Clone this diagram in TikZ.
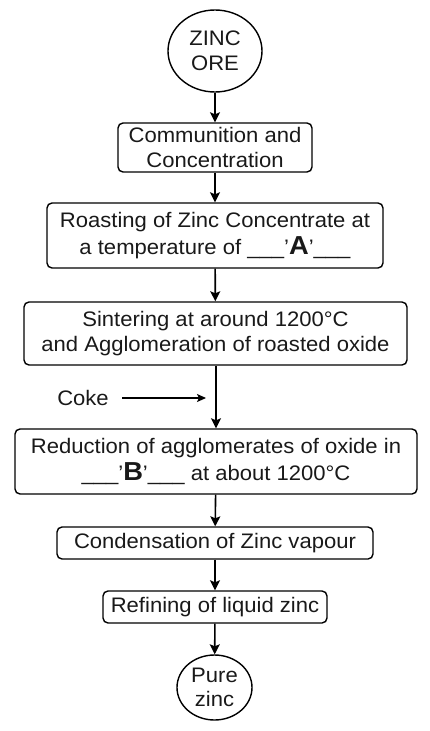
\documentclass[tikz,border=0pt]{standalone}
\usepackage{fontspec}
\setmainfont[FakeStretch=1.05]{Liberation Sans}
\usetikzlibrary{arrows.meta,shapes.geometric}
\begin{document}
\begin{tikzpicture}[x=1pt,y=-1pt,
  every node/.style={font=\fontsize{21}{24.5}\selectfont, text=black!90},
  stepbox/.style={draw, line width=1.4pt, rounded corners=5pt, inner sep=0pt, align=center},
  endpt/.style={draw, ellipse, line width=1.4pt, inner sep=0pt, align=center},
  flow/.style={line width=1.6pt, -{Stealth[length=10pt,width=10pt,inset=2pt]}}]
\newcommand{\bigletter}[1]{{\fontsize{26}{24.5}\selectfont\bfseries #1}}
\useasboundingbox (0,0) rectangle (430,731);
\node[endpt, minimum width=94pt, minimum height=82pt] (ore) at (215,51) {ZINC\\ORE};
\node[stepbox, minimum width=194pt, minimum height=49pt] (comm) at (215,147.5) {Communition and\\Concentration};
\node[stepbox, minimum width=336pt, minimum height=65pt] (roast) at (215,235.5) {Roasting of Zinc Concentrate at\\[2pt]a temperature of \_\_\_'\bigletter{A}'\_\_\_};
\node[stepbox, minimum width=383pt, minimum height=63pt] (sint) at (215.5,333.5) {Sintering at around 1200°C\\and Agglomeration of roasted oxide};
\node[stepbox, minimum width=402pt, minimum height=65pt] (red) at (216,461.5) {Reduction of agglomerates of oxide in\\[3pt]\_\_\_'\bigletter{B}'\_\_\_ at about 1200°C};
\node[stepbox, minimum width=316pt, minimum height=32pt] (cond) at (215,543) {Condensation of Zinc vapour};
\node[stepbox, minimum width=224pt, minimum height=32pt] (ref) at (215,607) {Refining of liquid zinc};
\node[endpt, minimum width=75pt, minimum height=65pt] (pure) at (214.5,687.5) {Pure\\zinc};
\node (coke) at (83,398) {Coke};
\coordinate (cs) at (122,398);
\coordinate (ce) at (206,398);
\draw[flow] (ore) -- (comm);
\draw[flow] (comm) -- (roast);
\draw[flow] (roast) -- (sint);
\draw[flow] (sint.south -| red.north) -- (red.north);
\draw[flow] (red) -- (cond);
\draw[flow] (cond) -- (ref);
\draw[flow] (ref) -- (pure);
\draw[line width=1.2pt, -{Stealth[length=9pt,width=8pt,inset=2pt]}] (cs) -- (ce);
\end{tikzpicture}
\end{document}
